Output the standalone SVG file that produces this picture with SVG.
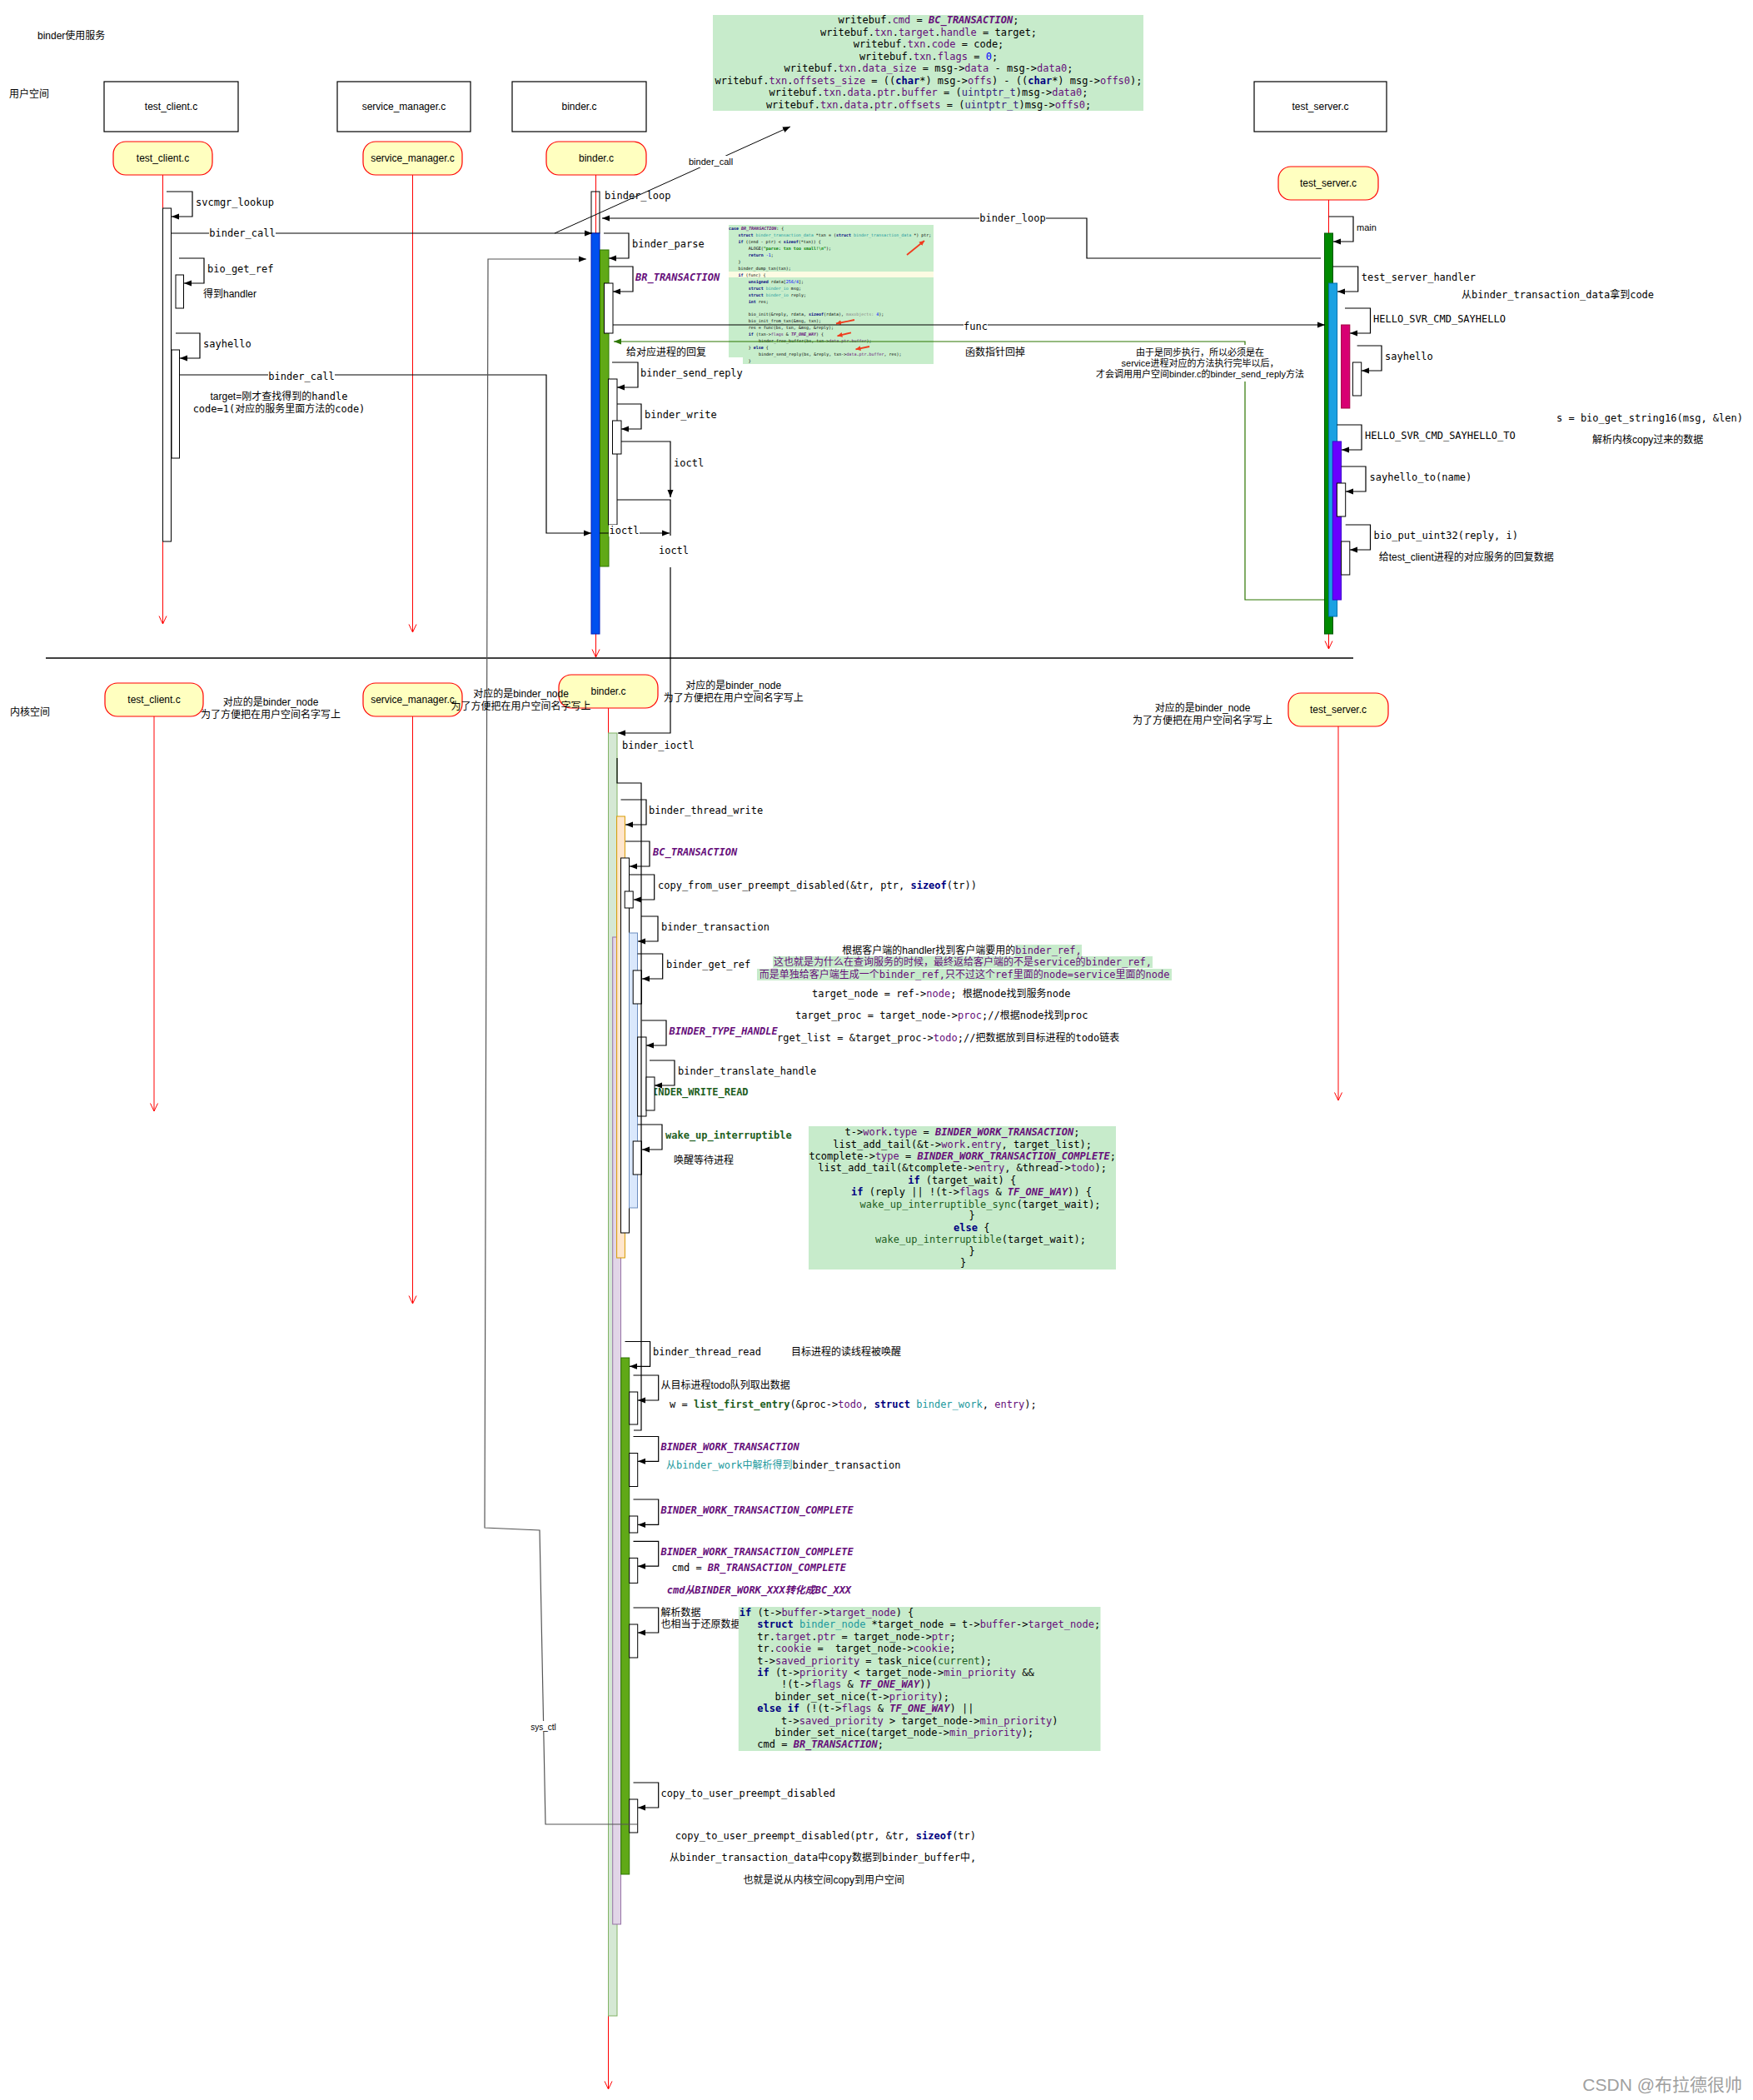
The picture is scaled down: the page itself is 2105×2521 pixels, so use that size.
<svg xmlns="http://www.w3.org/2000/svg" width="2105" height="2521" viewBox="0 0 2105 2521">
<style>
.s{font-family:"Liberation Sans","Noto Sans CJK SC",sans-serif;font-size:12px;fill:#000}
.s11{font-size:11px}
.m{font-family:"DejaVu Sans Mono","Noto Sans CJK SC",monospace;font-size:12px;fill:#000}
.t{font-family:"DejaVu Sans Mono",monospace;font-size:5px;fill:#000}
.p{fill:#660E7A}
.k{fill:#660E7A;font-weight:bold;font-style:italic}
.kw{fill:#000080;font-weight:bold}
.n{fill:#0000FF}
.c{fill:#20999D}
.f{fill:#1E5E1E;font-weight:bold}
.g{fill:#1E5E1E}
.u{fill:#371F80}
.sg{fill:#008000;font-weight:bold}
.ln{stroke:#000;stroke-width:1.2;fill:none}
.lg{stroke:#555;stroke-width:1.2;fill:none}
.ll{stroke:#FF0000;stroke-width:1;fill:none}
.hd{fill:#FFFFC0;stroke:#FF0000;stroke-width:1.2}
.bx{fill:none;stroke:#000;stroke-width:1.2}
.wr{fill:#FFF;stroke:#000;stroke-width:1}
.code{fill:#C7EBCB}
.wb{fill:#FFF}
.wm{font-family:"Liberation Sans","Noto Sans CJK SC",sans-serif;font-size:21px;fill:#A0A0A0}
.sc{font-family:"Liberation Sans",sans-serif;font-size:10px;fill:#000}
</style>
<defs>
<marker id="a" markerUnits="userSpaceOnUse" markerWidth="10" markerHeight="8" refX="9" refY="4" orient="auto"><path d="M0,0.5 L9,4 L0,7.5z" fill="#000"/></marker>
<marker id="ag" markerUnits="userSpaceOnUse" markerWidth="10" markerHeight="8" refX="9" refY="4" orient="auto"><path d="M0,0.5 L9,4 L0,7.5z" fill="#2D7600"/></marker>
<marker id="ar" markerUnits="userSpaceOnUse" markerWidth="12" markerHeight="12" refX="10" refY="5" orient="auto"><path d="M0.5,0.5 L10,5 L0.5,9.5" fill="none" stroke="#FF0000" stroke-width="1"/></marker>
<marker id="rr" markerUnits="userSpaceOnUse" markerWidth="8" markerHeight="8" refX="6" refY="3" orient="auto"><path d="M0,0 L6,3 L0,6z" fill="#F03C1E"/></marker>
</defs>
<rect x="0" y="0" width="2105" height="2521" fill="#FFF"/>

<g id="titles">
<text x="45" y="47" class="s">binder使用服务</text>
<text x="11" y="117" class="s">用户空间</text>
<text x="12" y="859" class="s">内核空间</text>
<line x1="55" y1="790" x2="1625" y2="790" stroke="#000" stroke-width="1.5"/>
</g>

<g id="box-test-client"><rect x="125" y="98" width="161" height="60" class="bx"/><text x="205.5" y="132" class="s" text-anchor="middle">test_client.c</text></g>
<g id="box-service-manager"><rect x="405" y="98" width="160" height="60" class="bx"/><text x="485" y="132" class="s" text-anchor="middle">service_manager.c</text></g>
<g id="box-binder"><rect x="615" y="98" width="161" height="60" class="bx"/><text x="695.5" y="132" class="s" text-anchor="middle">binder.c</text></g>
<g id="box-test-server"><rect x="1506" y="98" width="159" height="60" class="bx"/><text x="1585.5" y="132" class="s" text-anchor="middle">test_server.c</text></g>

<g id="code-writebuf">
<rect x="856" y="18" width="517" height="115" class="code"/>
<g class="m" text-anchor="middle">
<text x="1115" y="28">writebuf.<tspan class="p">cmd</tspan> = <tspan class="k">BC_TRANSACTION</tspan>;</text>
<text x="1115" y="42.5">writebuf.<tspan class="p">txn</tspan>.<tspan class="p">target</tspan>.<tspan class="p">handle</tspan> = target;</text>
<text x="1115" y="57">writebuf.<tspan class="p">txn</tspan>.<tspan class="p">code</tspan> = code;</text>
<text x="1115" y="71.5">writebuf.<tspan class="p">txn</tspan>.<tspan class="p">flags</tspan> = <tspan class="n">0</tspan>;</text>
<text x="1115" y="86">writebuf.<tspan class="p">txn</tspan>.<tspan class="p">data_size</tspan> = msg-&gt;<tspan class="p">data</tspan> - msg-&gt;<tspan class="p">data0</tspan>;</text>
<text x="1115" y="100.5">writebuf.<tspan class="p">txn</tspan>.<tspan class="p">offsets_size</tspan> = ((<tspan class="kw">char</tspan>*) msg-&gt;<tspan class="p">offs</tspan>) - ((<tspan class="kw">char</tspan>*) msg-&gt;<tspan class="p">offs0</tspan>);</text>
<text x="1115" y="115">writebuf.<tspan class="p">txn</tspan>.<tspan class="p">data</tspan>.<tspan class="p">ptr</tspan>.<tspan class="p">buffer</tspan> = (<tspan class="u">uintptr_t</tspan>)msg-&gt;<tspan class="p">data0</tspan>;</text>
<text x="1115" y="129.5">writebuf.<tspan class="p">txn</tspan>.<tspan class="p">data</tspan>.<tspan class="p">ptr</tspan>.<tspan class="p">offsets</tspan> = (<tspan class="u">uintptr_t</tspan>)msg-&gt;<tspan class="p">offs0</tspan>;</text>
</g>
</g>

<g id="code-br-transaction">
<rect x="875" y="270" width="246" height="159" fill="#C7EDCB"/>
<rect x="892" y="429" width="229" height="8" fill="#C7EDCB"/>
<rect x="875" y="326" width="246" height="7" fill="#FDFBE3"/>
<g class="t">
<text x="875" y="275.8"><tspan class="kw">case</tspan> <tspan class="k">BR_TRANSACTION</tspan>: {</text>
<text x="886.5" y="283.8"><tspan class="kw">struct</tspan> <tspan class="c">binder_transaction_data</tspan> *txn = (<tspan class="kw">struct</tspan> <tspan class="c">binder_transaction_data</tspan> *) ptr;</text>
<text x="886.5" y="291.8"><tspan class="kw">if</tspan> ((end - ptr) &lt; <tspan class="kw">sizeof</tspan>(*txn)) {</text>
<text x="898.7" y="299.8">ALOGE(<tspan class="sg">"parse: txn too small!\n"</tspan>);</text>
<text x="898.7" y="307.8"><tspan class="kw">return</tspan> <tspan class="n">-1</tspan>;</text>
<text x="886.5" y="315.8">}</text>
<text x="886.5" y="323.8">binder_dump_txn(txn);</text>
<text x="886.5" y="331.8"><tspan class="kw">if</tspan> (func) {</text>
<text x="898.7" y="339.8"><tspan class="kw">unsigned</tspan> rdata[<tspan class="n">256/4</tspan>];</text>
<text x="898.7" y="347.8"><tspan class="kw">struct</tspan> <tspan class="c">binder_io</tspan> msg;</text>
<text x="898.7" y="355.8"><tspan class="kw">struct</tspan> <tspan class="c">binder_io</tspan> reply;</text>
<text x="898.7" y="363.8"><tspan class="kw">int</tspan> res;</text>
<text x="898.7" y="378.8">bio_init(&amp;reply, rdata, <tspan class="kw">sizeof</tspan>(rdata), <tspan fill="#888">maxobjects:</tspan> <tspan class="n">4</tspan>);</text>
<text x="898.7" y="386.8">bio_init_from_txn(&amp;msg, txn);</text>
<text x="898.7" y="394.8">res = func(bs, txn, &amp;msg, &amp;reply);</text>
<text x="898.7" y="402.8"><tspan class="kw">if</tspan> (txn-&gt;<tspan class="p">flags</tspan> &amp; <tspan class="k">TF_ONE_WAY</tspan>) {</text>
<text x="911" y="410.5">binder_free_buffer(bs, txn-&gt;<tspan class="p">data</tspan>.<tspan class="p">ptr</tspan>.<tspan class="p">buffer</tspan>);</text>
<text x="898.7" y="418.5">} <tspan class="kw">else</tspan> {</text>
<text x="911" y="426.5">binder_send_reply(bs, &amp;reply, txn-&gt;<tspan class="p">data</tspan>.<tspan class="p">ptr</tspan>.<tspan class="p">buffer</tspan>, res);</text>
<text x="898.7" y="434.5">}</text>
</g>
<g stroke="#F03C1E" stroke-width="1.8" fill="none">
<line x1="1089" y1="306" x2="1110" y2="289" marker-end="url(#rr)"/>
<line x1="1026" y1="384" x2="1004" y2="388.5" marker-end="url(#rr)"/>
<line x1="1022" y1="399.3" x2="1005.5" y2="403.3" marker-end="url(#rr)"/>
<line x1="1044" y1="416" x2="1027.5" y2="419.3" marker-end="url(#rr)"/>
</g>
</g>

<g id="user-test-client">
<rect x="136" y="170" width="119" height="40" rx="15" class="hd"/>
<text x="195.5" y="194" class="s" text-anchor="middle">test_client.c</text>
<line x1="195.5" y1="210" x2="195.5" y2="749" class="ll" marker-end="url(#ar)"/>
<rect x="195.5" y="250" width="10" height="400" class="wr"/>
<rect x="211" y="330" width="9.5" height="40" class="wr"/>
<rect x="206" y="420" width="9.5" height="130" class="wr"/>
</g>

<g id="user-service-manager">
<rect x="436" y="170" width="119" height="40" rx="15" class="hd"/>
<text x="495.5" y="194" class="s" text-anchor="middle">service_manager.c</text>
<line x1="495.5" y1="210" x2="495.5" y2="759" class="ll" marker-end="url(#ar)"/>
</g>

<g id="user-binder">
<rect x="656" y="170" width="120" height="40" rx="15" class="hd"/>
<text x="716" y="194" class="s" text-anchor="middle">binder.c</text>
<line x1="715.5" y1="210" x2="715.5" y2="789" class="ll" marker-end="url(#ar)"/>
<rect x="710" y="230" width="10" height="50" fill="none" stroke="#000" stroke-width="1"/>
<rect x="710" y="280" width="10" height="481" fill="#0050EF" stroke="#001DBC" stroke-width="1"/>
<rect x="720.5" y="300" width="10.5" height="380" fill="#60A917" stroke="#2D7600" stroke-width="1"/>
<rect x="725.5" y="340" width="10.5" height="60" class="wr"/>
<rect x="730.5" y="455" width="10.5" height="175" class="wr"/>
<rect x="735.5" y="505" width="10.5" height="40" class="wr"/>
</g>

<g id="user-test-server">
<rect x="1535" y="200" width="120" height="40" rx="15" class="hd"/>
<text x="1595" y="224" class="s" text-anchor="middle">test_server.c</text>
<line x1="1595.5" y1="240" x2="1595.5" y2="779" class="ll" marker-end="url(#ar)"/>
<rect x="1590.5" y="280" width="10" height="481" fill="#008A00" stroke="#005700" stroke-width="1"/>
<rect x="1595.6" y="340" width="10" height="400" fill="#1BA1E2" stroke="#006EAF" stroke-width="1"/>
<rect x="1610.6" y="390" width="10.2" height="100" fill="#D80073" stroke="#A50040" stroke-width="1"/>
<rect x="1624.4" y="435" width="10.3" height="40" class="wr"/>
<rect x="1600.3" y="530" width="10.3" height="190" fill="#6A00FF" stroke="#3700CC" stroke-width="1"/>
<rect x="1605.4" y="580" width="10.3" height="40" class="wr"/>
<rect x="1610.6" y="650" width="10.2" height="40" class="wr"/>
</g>

<g id="kernel-test-client">
<rect x="126" y="820" width="118" height="40" rx="15" class="hd"/>
<text x="185" y="844" class="s" text-anchor="middle">test_client.c</text>
<line x1="185" y1="860" x2="185" y2="1334" class="ll" marker-end="url(#ar)"/>
</g>

<g id="kernel-service-manager">
<rect x="436" y="820" width="119" height="40" rx="15" class="hd"/>
<text x="495.5" y="844" class="s" text-anchor="middle">service_manager.c</text>
<line x1="495.5" y1="860" x2="495.5" y2="1565" class="ll" marker-end="url(#ar)"/>
</g>

<g id="kernel-test-server">
<rect x="1547" y="832" width="120" height="40" rx="15" class="hd"/>
<text x="1607" y="856" class="s" text-anchor="middle">test_server.c</text>
<line x1="1607" y1="872" x2="1607" y2="1321" class="ll" marker-end="url(#ar)"/>
</g>

<g id="kernel-binder">
<rect x="671" y="810" width="119" height="40" rx="15" class="hd"/>
<text x="730.5" y="834" class="s" text-anchor="middle">binder.c</text>
<line x1="730.5" y1="850" x2="730.5" y2="2508" class="ll" marker-end="url(#ar)"/>
<rect x="730.5" y="880" width="10.5" height="1540" fill="#D5E8D4" stroke="#82B366" stroke-width="1"/>
<rect x="735.7" y="1125" width="9.8" height="1185" fill="#E1D5E7" stroke="#9673A6" stroke-width="1"/>
<rect x="740.6" y="980" width="9.8" height="530" fill="#FFE6CC" stroke="#D79B00" stroke-width="1"/>
<rect x="745.5" y="1030" width="10" height="450" class="wr"/>
<rect x="750.2" y="1070" width="10" height="20" class="wr"/>
<rect x="755.5" y="1120" width="10" height="330" fill="#DAE8FC" stroke="#6C8EBF" stroke-width="1"/>
<rect x="760.2" y="1165" width="10.3" height="40" class="wr"/>
<rect x="765.6" y="1245" width="10.4" height="95" class="wr"/>
<text x="783" y="1315" class="m f">INDER_WRITE_READ</text>
<rect x="776" y="1293" width="10" height="40" class="wr"/>
<rect x="760.2" y="1370" width="10.3" height="40" class="wr"/>
<rect x="745.7" y="1630" width="10" height="620" fill="#60A917" stroke="#2D7600" stroke-width="1"/>
<rect x="755.7" y="1671" width="10" height="39" class="wr"/>
<rect x="755.7" y="1744.5" width="10" height="40" class="wr"/>
<rect x="755.7" y="1820" width="10" height="20" class="wr"/>
<rect x="755.7" y="1870.4" width="10" height="30" class="wr"/>
<rect x="755.7" y="1950" width="10" height="40" class="wr"/>
<rect x="755.7" y="2160" width="10" height="40" class="wr"/>
</g>

<g id="connectors">
<polyline points="200,230 231,230 231,260 206,260" class="ln" marker-end="url(#a)"/>
<line x1="206" y1="280" x2="711" y2="280" class="ln" marker-end="url(#a)"/>
<polyline points="215,310 245,310 245,340 221,340" class="ln" marker-end="url(#a)"/>
<polyline points="211,400 240,400 240,430 216,430" class="ln" marker-end="url(#a)"/>
<polyline points="215.5,450 656,450 656,640 710,640" class="ln" marker-end="url(#a)"/>
<line x1="666" y1="280" x2="949" y2="152" stroke="#000" stroke-width="1" marker-end="url(#a)"/>
<polyline points="1586,310 1305,310 1305,262 723,262" class="ln" marker-end="url(#a)"/>
<polyline points="725,280 755,280 755,310 731,310" class="ln" marker-end="url(#a)"/>
<polyline points="731,320 760,320 760,350 736,350" class="ln" marker-end="url(#a)"/>
<line x1="736" y1="390" x2="1591" y2="390" class="ln" marker-end="url(#a)"/>
<polyline points="1590,720 1495,720 1495,410 737,410" stroke="#2D7600" stroke-width="1.2" fill="none" marker-end="url(#ag)"/>
<polyline points="735,435 766,435 766,465 741,465" class="ln" marker-end="url(#a)"/>
<polyline points="741,485 770,485 770,515 746,515" class="ln" marker-end="url(#a)"/>
<polyline points="746,530 805,530 805,597" class="ln" marker-end="url(#a)"/>
<polyline points="741,600 805,600 805,643" class="ln"/>
<line x1="720" y1="640" x2="804" y2="640" class="ln" marker-end="url(#a)"/>
<polyline points="805,681 805,880 742,880" class="ln" marker-end="url(#a)"/>
<polyline points="765,2190 655,2190 648,1837 582,1834 586,311 704,311" class="lg" marker-end="url(#a)"/>
<polyline points="1595.6,260 1625,260 1625,290 1601,290" class="ln" marker-end="url(#a)"/>
<polyline points="1600.5,320 1630.7,320 1630.7,350 1606,350" class="ln" marker-end="url(#a)"/>
<polyline points="1615,370 1645.5,370 1645.5,400 1621,400" class="ln" marker-end="url(#a)"/>
<polyline points="1629.6,415 1659,415 1659,445 1635,445" class="ln" marker-end="url(#a)"/>
<polyline points="1605.4,510 1635,510 1635,540 1611,540" class="ln" marker-end="url(#a)"/>
<polyline points="1610.6,560 1640,560 1640,590 1616,590" class="ln" marker-end="url(#a)"/>
<polyline points="1615.7,630 1645.5,630 1645.5,660 1621,660" class="ln" marker-end="url(#a)"/>
<polyline points="741,910 741,940 770,940 770,1717 761,1717" class="ln"/>
<polyline points="745.5,960 776,960 776,990 751,990" class="ln" marker-end="url(#a)"/>
<polyline points="751,1010 780,1010 780,1040 756,1040" class="ln" marker-end="url(#a)"/>
<polyline points="755.5,1050 785.7,1050 785.7,1080 761,1080" class="ln" marker-end="url(#a)"/>
<polyline points="770,1100 790,1100 790,1130 766,1130" class="ln" marker-end="url(#a)"/>
<polyline points="765.5,1145 795.7,1145 795.7,1175 771,1175" class="ln" marker-end="url(#a)"/>
<polyline points="770.5,1225 800,1225 800,1255 776,1255" class="ln" marker-end="url(#a)"/>
<polyline points="780,1273 810,1273 810,1303 786,1303" class="ln" marker-end="url(#a)"/>
<polyline points="765.6,1350 795,1350 795,1380 771,1380" class="ln" marker-end="url(#a)"/>
<polyline points="750.5,1610.5 780.6,1610.5 780.6,1640.3 756,1640.3" class="ln" marker-end="url(#a)"/>
<polyline points="760.5,1651 790.7,1651 790.7,1681 766,1681" class="ln" marker-end="url(#a)"/>
<polyline points="760.5,1724.5 790.7,1724.5 790.7,1754.3 766,1754.3" class="ln" marker-end="url(#a)"/>
<polyline points="760.5,1800 790.7,1800 790.7,1830.4 766,1830.4" class="ln" marker-end="url(#a)"/>
<polyline points="760.5,1850.4 790.7,1850.4 790.7,1880.2 766,1880.2" class="ln" marker-end="url(#a)"/>
<polyline points="760.5,1930 790.7,1930 790.7,1960 766,1960" class="ln" marker-end="url(#a)"/>
<polyline points="760.5,2140 790.7,2140 790.7,2170 766,2170" class="ln" marker-end="url(#a)"/>
</g>

<g id="labels">
<rect x="251" y="273" width="80" height="14" class="wb"/>
<text x="291" y="284" class="m" text-anchor="middle">binder_call</text>
<rect x="322" y="445" width="80" height="14" class="wb"/>
<text x="362" y="456" class="m" text-anchor="middle">binder_call</text>
<rect x="826" y="187" width="55" height="14" class="wb"/>
<text x="853.6" y="198" class="s s11" text-anchor="middle">binder_call</text>
<rect x="1176" y="255" width="80" height="14" class="wb"/>
<text x="1216" y="266" class="m" text-anchor="middle">binder_loop</text>
<rect x="1157" y="384" width="29" height="14" class="wb"/>
<text x="1171.5" y="396" class="m" text-anchor="middle">func</text>
<rect x="731" y="630" width="37" height="14" class="wb"/>
<text x="749.5" y="641" class="m" text-anchor="middle">ioctl</text>
<rect x="637" y="2066" width="31" height="13" class="wb"/>
<text x="652.5" y="2076.5" class="sc" text-anchor="middle">sys_ctl</text>

<text x="235" y="247" class="m">svcmgr_lookup</text>
<text x="249" y="327" class="m">bio_get_ref</text>
<text x="244" y="357" class="s">得到handler</text>
<text x="244" y="417" class="m">sayhello</text>
<text x="335" y="480" class="m" text-anchor="middle"><tspan font-family="Liberation Sans, Noto Sans CJK SC, sans-serif">target=</tspan>刚才查找得到的handle</text>
<text x="335" y="495" class="m" text-anchor="middle">code=1(对应的服务里面方法的code)</text>

<text x="726" y="239" class="m">binder_loop</text>
<text x="759" y="297" class="m">binder_parse</text>
<text x="763" y="337" class="m k">BR_TRANSACTION</text>
<text x="800" y="427" class="s" text-anchor="middle">给对应进程的回复</text>
<text x="1195" y="427" class="s" text-anchor="middle">函数指针回掉</text>
<text x="769" y="452" class="m">binder_send_reply</text>
<text x="774" y="502" class="m">binder_write</text>
<text x="809" y="560" class="m">ioctl</text>
<text x="809" y="665" class="m" text-anchor="middle">ioctl</text>

<rect x="1314" y="414" width="256" height="44" class="wb"/>
<g class="s s11" text-anchor="middle">
<text x="1441" y="427">由于是同步执行，所以必须是在</text>
<text x="1441" y="440">service进程对应的方法执行完毕以后，</text>
<text x="1441" y="453">才会调用用户空间binder.c的binder_send_reply方法</text>
</g>

<text x="1629" y="277" class="s s11">main</text>
<text x="1634.7" y="337" class="m">test_server_handler</text>
<text x="1755" y="358" class="m">从binder_transaction_data拿到code</text>
<text x="1649" y="387" class="m">HELLO_SVR_CMD_SAYHELLO</text>
<text x="1663" y="432" class="m">sayhello</text>
<text x="1869" y="506" class="m">s = bio_get_string16(msg, &amp;len)</text>
<text x="1912" y="532" class="s">解析内核copy过来的数据</text>
<text x="1639" y="527" class="m">HELLO_SVR_CMD_SAYHELLO_TO</text>
<text x="1644.5" y="577" class="m">sayhello_to(name)</text>
<text x="1649.6" y="647" class="m">bio_put_uint32(reply, i)</text>
<text x="1655.7" y="673" class="s">给test_client进程的对应服务的回复数据</text>

<g class="s" text-anchor="middle">
<text x="325" y="847">对应的是binder_node</text>
<text x="325" y="862">为了方便把在用户空间名字写上</text>
<text x="625.5" y="837">对应的是binder_node</text>
<text x="625.5" y="852">为了方便把在用户空间名字写上</text>
<text x="880.7" y="827">对应的是binder_node</text>
<text x="880.7" y="842">为了方便把在用户空间名字写上</text>
<text x="1444" y="854">对应的是binder_node</text>
<text x="1444" y="869">为了方便把在用户空间名字写上</text>
</g>

<text x="747" y="899" class="m">binder_ioctl</text>
<text x="779" y="977" class="m">binder_thread_write</text>
<text x="784" y="1027" class="m k">BC_TRANSACTION</text>
<text x="790" y="1067" class="m">copy_from_user_preempt_disabled(&amp;tr, ptr, <tspan class="kw">sizeof</tspan>(tr))</text>
<text x="794" y="1117" class="m">binder_transaction</text>
<text x="800" y="1162" class="m">binder_get_ref</text>
<text x="803.6" y="1242" class="m k">BINDER_TYPE_HANDLE</text>
<text x="814" y="1290" class="m">binder_translate_handle</text>
<text x="799" y="1367" class="m f">wake_up_interruptible</text>
<text x="809" y="1397" class="s">唤醒等待进程</text>

<rect x="1219" y="1134" width="80" height="14" class="code"/>
<rect x="928" y="1148" width="456" height="14" class="code"/>
<rect x="909" y="1163" width="498" height="14" class="code"/>
<text x="1155" y="1145" class="s" text-anchor="middle">根据客户端的handler找到客户端要用的<tspan class="p" font-family="DejaVu Sans Mono, monospace">binder_ref,</tspan></text>
<text x="1156" y="1159" class="m p" text-anchor="middle">这也就是为什么在查询服务的时候，最终返给客户端的不是service的binder_ref,</text>
<text x="1158" y="1174" class="m p" text-anchor="middle">而是单独给客户端生成一个binder_ref,只不过这个ref里面的node=service里面的node</text>
<text x="975" y="1197" class="m">target_node = ref-&gt;<tspan class="p">node</tspan>; 根据node找到服务node</text>
<text x="955" y="1223" class="m">target_proc = target_node-&gt;<tspan class="p">proc</tspan>;//根据node找到proc</text>
<text x="933" y="1250" class="m">rget_list = &amp;target_proc-&gt;<tspan class="p">todo</tspan>;//把数据放到目标进程的todo链表</text>

<rect x="971" y="1352" width="369" height="172" class="code"/>
<g class="m">
<text x="1014.6" y="1363">t-&gt;<tspan class="p">work</tspan>.<tspan class="p">type</tspan> = <tspan class="k">BINDER_WORK_TRANSACTION</tspan>;</text>
<text x="1000.2" y="1377.5">list_add_tail(&amp;t-&gt;<tspan class="p">work</tspan>.<tspan class="p">entry</tspan>, target_list);</text>
<text x="971.4" y="1391.5">tcomplete-&gt;<tspan class="p">type</tspan> = <tspan class="k">BINDER_WORK_TRANSACTION_COMPLETE</tspan>;</text>
<text x="982.2" y="1405.7">list_add_tail(&amp;tcomplete-&gt;<tspan class="p">entry</tspan>, &amp;thread-&gt;<tspan class="p">todo</tspan>);</text>
<text x="1090.2" y="1420.5"><tspan class="kw">if</tspan> (target_wait) {</text>
<text x="1022" y="1434.7"><tspan class="kw">if</tspan> (reply || !(t-&gt;<tspan class="p">flags</tspan> &amp; <tspan class="k">TF_ONE_WAY</tspan>)) {</text>
<text x="1032.6" y="1449.5"><tspan class="g">wake_up_interruptible_sync</tspan>(target_wait);</text>
<text x="1163.4" y="1463">}</text>
<text x="1145" y="1477.7"><tspan class="kw">else</tspan> {</text>
<text x="1051" y="1492.3"><tspan class="g">wake_up_interruptible</tspan>(target_wait);</text>
<text x="1163.4" y="1506.3">}</text>
<text x="1153" y="1520">}</text>
</g>

<text x="784" y="1627" class="m">binder_thread_read</text>
<text x="950" y="1627" class="s">目标进程的读线程被唤醒</text>
<text x="793.5" y="1667" class="s">从目标进程todo队列取出数据</text>
<text x="804" y="1690" class="m">w = <tspan class="f">list_first_entry</tspan>(&amp;proc-&gt;<tspan class="p">todo</tspan>, <tspan class="kw">struct</tspan> <tspan class="c">binder_work</tspan>, <tspan class="p">entry</tspan>);</text>
<text x="793.5" y="1741" class="m k">BINDER_WORK_TRANSACTION</text>
<text x="800" y="1763" class="m"><tspan class="c">从binder_work中解析得到</tspan>binder_transaction</text>
<text x="793.5" y="1816.5" class="m k">BINDER_WORK_TRANSACTION_COMPLETE</text>
<text x="793.5" y="1866.7" class="m k">BINDER_WORK_TRANSACTION_COMPLETE</text>
<text x="806.5" y="1885.6" class="m">cmd = <tspan class="k">BR_TRANSACTION_COMPLETE</tspan></text>
<text x="800.7" y="1913" class="m k">cmd从BINDER_WORK_XXX转化成BC_XXX</text>
<text x="793.5" y="1940" class="s">解析数据</text>
<text x="793.5" y="1954" class="s">也相当于还原数据</text>

<rect x="886.8" y="1929" width="434.7" height="173" class="code"/>
<g class="m">
<text x="887.8" y="1939.7"><tspan class="kw">if</tspan> (t-&gt;<tspan class="p">buffer</tspan>-&gt;<tspan class="p">target_node</tspan>) {</text>
<text x="909.3" y="1953.7"><tspan class="kw">struct</tspan> <tspan class="c">binder_node</tspan> *target_node = t-&gt;<tspan class="p">buffer</tspan>-&gt;<tspan class="p">target_node</tspan>;</text>
<text x="909.3" y="1968.7">tr.<tspan class="p">target</tspan>.<tspan class="p">ptr</tspan> = target_node-&gt;<tspan class="p">ptr</tspan>;</text>
<text x="909.3" y="1982.7">tr.<tspan class="p">cookie</tspan> =<tspan x="1002.9">target_node-&gt;</tspan><tspan class="p">cookie</tspan>;</text>
<text x="909.3" y="1997.7">t-&gt;<tspan class="p">saved_priority</tspan> = task_nice(<tspan class="g">current</tspan>);</text>
<text x="909.3" y="2011.7"><tspan class="kw">if</tspan> (t-&gt;<tspan class="p">priority</tspan> &lt; target_node-&gt;<tspan class="p">min_priority</tspan> &amp;&amp;</text>
<text x="938" y="2025.7">!(t-&gt;<tspan class="p">flags</tspan> &amp; <tspan class="k">TF_ONE_WAY</tspan>))</text>
<text x="930.5" y="2040.7">binder_set_nice(t-&gt;<tspan class="p">priority</tspan>);</text>
<text x="909.3" y="2054.7"><tspan class="kw">else if</tspan> (!(t-&gt;<tspan class="p">flags</tspan> &amp; <tspan class="k">TF_ONE_WAY</tspan>) ||</text>
<text x="938" y="2069.7">t-&gt;<tspan class="p">saved_priority</tspan> &gt; target_node-&gt;<tspan class="p">min_priority</tspan>)</text>
<text x="930.5" y="2083.7">binder_set_nice(target_node-&gt;<tspan class="p">min_priority</tspan>);</text>
<text x="909.3" y="2097.7">cmd = <tspan class="k">BR_TRANSACTION</tspan>;</text>
</g>

<text x="793.5" y="2157" class="m">copy_to_user_preempt_disabled</text>
<text x="810.8" y="2208" class="m">copy_to_user_preempt_disabled(ptr, &amp;tr, <tspan class="kw">sizeof</tspan>(tr)</text>
<text x="804" y="2234" class="m">从binder_transaction_data中copy数据到binder_buffer中,</text>
<text x="892.6" y="2261" class="s">也就是说从内核空间copy到用户空间</text>

<text x="2092" y="2510" class="wm" text-anchor="end">CSDN @布拉德很帅</text>
</g>
</svg>
